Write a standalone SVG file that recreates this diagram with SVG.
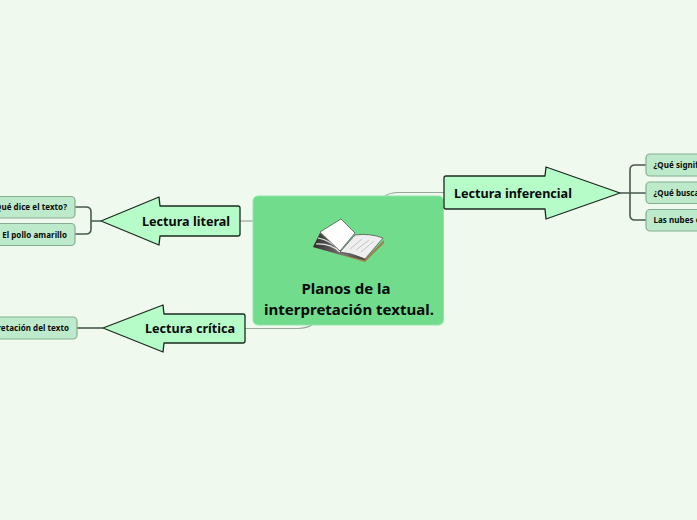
<svg xmlns="http://www.w3.org/2000/svg" width="697" height="520" viewBox="0 0 697 520">
<style>
text{font-family:"Noto Sans","Open Sans","DejaVu Sans",sans-serif;font-weight:700;fill:#0a0a0a}
.arrow{fill:#b6fcc8;stroke:#1c2a20;stroke-width:1.3;stroke-linejoin:round}
.sub{fill:#bdeaca;stroke:#86ad92;stroke-width:1.2}
.t1{font-size:12.600px}
.t2{font-size:8px;letter-spacing:.05px}
.t0{font-size:15px}
.main{fill:none;stroke:#98a89c;stroke-width:1.2}
.br{fill:none;stroke:#4a5a4e;stroke-width:1.6}
</style>
<defs>
<linearGradient id="stack" x1="0" y1="0" x2="1" y2="0"><stop offset="0" stop-color="#2e2e2e"/><stop offset=".6" stop-color="#777"/><stop offset="1" stop-color="#333"/></linearGradient>
</defs>
<rect width="697" height="520" fill="#eff9ee"/>
<g id="connectors">
<path class="main" d="M385 196Q389 193 397 192.500H444"/>
<path class="main" d="M253 221H240"/>
<path class="main" d="M312 325Q307 328 298 328.500H245"/>
<path class="br" d="M620 193H646M630 193V170Q630 165 635 165H646M630 193V215Q630 220 635 220H646"/>
<path class="br" d="M101 221H91M91 221V212Q91 207 86 207H75M91 221V229Q91 234 86 234H75"/>
<path class="br" d="M103 328H77"/>
</g>
<g id="center">
<rect x="253" y="196" width="190.500" height="129" rx="5" fill="#70dc8c" stroke="#94e4aa" stroke-width="1"/>
<path d="M313 247L320 233L340 250L365 259L384 240L384 243L365 262Z" fill="#a07c50"/>
<path d="M313 247L320 233L340 250L365 258L365 260L338 254Z" fill="url(#stack)"/>
<path d="M316 244Q330 243 340 252M318 238Q330 240 339 250" fill="none" stroke="#e8e8e8" stroke-width="1.200"/>
<path d="M320 232L341 219L355 233L340 251Z" fill="#ffffff" stroke="#555" stroke-width=".8"/>
<path d="M340 252L355 235Q370 233 383 238L365 259Q352 253 340 252Z" fill="#efefef" stroke="#555" stroke-width=".8"/>
<path d="M350 249L362 239M356 250L369 240M361 252L374 241" stroke="#c4c4c4" stroke-width="1" fill="none"/>
<text class="t0" x="346" y="294" text-anchor="middle">Planos de la</text>
<text class="t0" x="349" y="315" text-anchor="middle">interpretación textual.</text>
</g>
<g id="lectura-inferencial">
<path class="arrow" d="M444 178Q444 176 446 176H545L546 167L620 193L546 219L545 209H446Q444 209 444 207Z"/>
<text class="t1" x="454" y="198">Lectura inferencial</text>
</g>
<g id="lectura-literal">
<path class="arrow" d="M101 221L159 197L160 206H238Q240 206 240 208V234Q240 236 238 236H160L159 245Z"/>
<text class="t1" x="142" y="226">Lectura literal</text>
</g>
<g id="lectura-critica">
<path class="arrow" d="M103 328L163 305L164 314H243Q245 314 245 316V341Q245 343 243 343H164L163 352Z"/>
<text class="t1" x="145" y="333">Lectura crítica</text>
</g>
<g id="que-signif">
<rect class="sub" x="646" y="154" width="70" height="22" rx="4"/>
<text class="t2" x="653.500" y="168">¿Qué signific</text>
</g>
<g id="que-busca">
<rect class="sub" x="646" y="182" width="70" height="21.500" rx="4"/>
<text class="t2" x="653.500" y="196">¿Qué busca</text>
</g>
<g id="las-nubes">
<rect class="sub" x="646" y="209.500" width="70" height="21.500" rx="4"/>
<text class="t2" x="653.500" y="223">Las nubes o</text>
</g>
<g id="que-dice">
<rect class="sub" x="-20" y="196.500" width="95" height="21.500" rx="4"/>
<text class="t2" x="67" y="210" text-anchor="end">¿Qué dice el texto?</text>
</g>
<g id="pollo">
<rect class="sub" x="-20" y="223.500" width="95" height="22" rx="4"/>
<text class="t2" x="67" y="238" text-anchor="end">El pollo amarillo</text>
</g>
<g id="interpretacion">
<rect class="sub" x="-20" y="317" width="97" height="22" rx="4"/>
<text class="t2" x="69" y="331" text-anchor="end">Interpretación del texto</text>
</g>
</svg>
